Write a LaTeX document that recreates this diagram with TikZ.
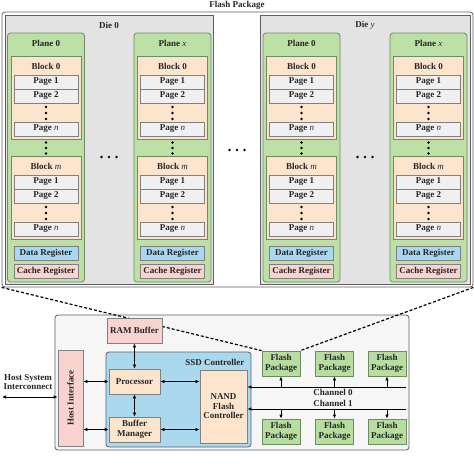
\documentclass[tikz,border=0pt]{standalone}
\usepackage{fontspec}
\setmainfont{Liberation Serif}
\usetikzlibrary{arrows.meta}

\newcommand{\var}[1]{{\mdseries\itshape #1}}
\definecolor{linegray}{HTML}{5F5F5F}
\definecolor{diegray}{HTML}{E3E3E3}
\definecolor{planegreen}{HTML}{BCE0A6}
\definecolor{planeline}{HTML}{6F8B62}
\definecolor{blockpeach}{HTML}{FDE5CD}
\definecolor{pagegray}{HTML}{F0F0F0}
\definecolor{regblue}{HTML}{A9D9F2}
\definecolor{regpink}{HTML}{F9D3D0}
\definecolor{boardgray}{HTML}{F6F6F6}
\definecolor{ctrlblue}{HTML}{AAD8EF}
\definecolor{pkggreen}{HTML}{B7DDA0}
\definecolor{textdark}{HTML}{262626}

\begin{document}
\begin{tikzpicture}[x=1pt,y=-1pt,
  font=\bfseries\fontsize{9}{9.5}\selectfont, text=textdark,
  box/.style={draw=linegray,line width=0.8pt,inner sep=0pt,rectangle,align=center},
  outerbox/.style={box,fill=white,rounded corners=3pt,minimum width=471pt,minimum height=275pt},
  diebox/.style={box,fill=diegray,minimum width=#1,minimum height=269pt},
  planebox/.style={box,draw=planeline,fill=planegreen,rounded corners=3pt,minimum width=77pt,minimum height=249pt},
  blockbox/.style={box,draw=planeline,fill=blockpeach,minimum width=70pt,minimum height=83pt},
  pagebox/.style={box,draw=gray,fill=pagegray,minimum width=64pt,minimum height=14pt},
  databox/.style={box,draw=gray,fill=regblue,minimum width=64pt,minimum height=14pt},
  cachebox/.style={box,draw=gray,fill=regpink,minimum width=64pt,minimum height=14pt},
  pinkbox/.style={box,draw=gray,fill=regpink},
  peachbox/.style={box,draw=gray,fill=blockpeach},
  pkgbox/.style={box,draw=planeline,fill=pkggreen,minimum width=38pt,minimum height=25pt},
  biarrow/.style={{Latex[length=4pt,width=3.5pt]}-{Latex[length=4pt,width=3.5pt]},line width=1pt,black},
  onearrow/.style={-{Latex[length=4pt,width=3.5pt]},line width=1pt,black},
  zoomline/.style={line width=1.2pt,dash pattern=on 3pt off 2pt,black}
]
\useasboundingbox (0,0) rectangle (474,467);

% flash package
\node[outerbox] (fpkg) at (237.5,149.5) {};
\node at (237,5) {Flash Package};
\node[diebox=208pt] (die0) at (109,149.5) {};
\node at (109,25) {Die 0};
\node[diebox=210pt] (diey) at (365,149.5) {};
\node at (365,25) {Die \var{y}};

\foreach \cx/\nm/\pl in {46/a/0, 172.5/b/\var{x}, 301.5/c/0, 428.5/d/\var{x}} {
  \node[planebox] (pl\nm) at (\cx,157.5) {};
  \node at (\cx,43) {Plane \pl};
  \foreach \dy/\bn/\bl in {0/0/0, 100/m/\var{m}} {
    \node[blockbox] (bk\nm\bn) at (\cx,97.5+\dy) {};
    \node at (\cx,66+\dy) {Block \bl};
    \node[pagebox] (pg\nm\bn1) at (\cx,82+\dy) {Page 1};
    \node[pagebox] (pg\nm\bn2) at (\cx,96+\dy) {Page 2};
    \node[pagebox] (pg\nm\bn n) at (\cx,129+\dy) {Page \var{n}};
    \foreach \ty in {107,113,119}
      \fill (\cx,\ty+\dy) circle (1.3pt);
  }
  \foreach \ty in {142.5,148,153.5}
    \fill (\cx,\ty) circle (1.3pt);
  \node[databox] (dr\nm) at (\cx,253) {Data Register};
  \node[cachebox] (cr\nm) at (\cx,271) {Cache Register};
}

% dots between planes and dies
\foreach \tx in {-7.5,0,7.5} {
  \fill (109+\tx,157) circle (1.3pt);
  \fill (365+\tx,157) circle (1.3pt);
  \fill (237+\tx,150) circle (1.3pt);
}

% SSD
\node[box,fill=boardgray,rounded corners=3pt,minimum width=354pt,minimum height=135pt] (ssd) at (232,382.5) {};
\node[pkgbox] (ft1) at (281,363.5) {Flash\\Package};
\draw[zoomline] (fpkg.south west) -- (ft1.north west);
\draw[zoomline] (fpkg.south east) -- (ft1.north east);
\node[pinkbox,minimum width=55pt,minimum height=25pt] (ram) at (134.5,330.5) {RAM Buffer};
\node[pinkbox,minimum width=25pt,minimum height=96pt] (hif) at (70.5,398) {};
\node[rotate=90] at (hif) {Host Interface};
\node[box,fill=ctrlblue,rounded corners=3pt,minimum width=145pt,minimum height=95pt] (ctrl) at (178.5,399.5) {};
\node[anchor=east] at (248,362) {SSD Controller};
\node[peachbox,minimum width=51pt,minimum height=25pt] (proc) at (134.5,381.5) {Processor};
\node[peachbox,minimum width=51pt,minimum height=25pt] (bufm) at (134.5,429.5) {Buffer\\Manager};
\node[peachbox,minimum width=47pt,minimum height=73pt] (nand) at (223.5,406.5) {NAND\\Flash\\Controller};
\node[pkgbox] (ft2) at (334.5,363.5) {Flash\\Package};
\node[pkgbox] (ft3) at (387,363.5) {Flash\\Package};
\node[pkgbox] (fb1) at (281,431.5) {Flash\\Package};
\node[pkgbox] (fb2) at (334.5,431.5) {Flash\\Package};
\node[pkgbox] (fb3) at (387,431.5) {Flash\\Package};

\node[align=center] at (28,382) {Host System\\Interconnect};
\coordinate (host) at (2,397);
\draw[biarrow] (host) -- (hif.west |- host);
\draw[biarrow] (hif.east |- proc) -- (proc.west);
\draw[biarrow] (hif.east |- bufm) -- (bufm.west);
\draw[biarrow] (proc.east) -- (nand.west |- proc.east);
\draw[biarrow] (bufm.east) -- (nand.west |- bufm.east);
\draw[biarrow] (ram.south) -- (proc.north);
\draw[biarrow] (proc.south) -- (bufm.north);

% channels
\coordinate (ch0) at (406,387);
\coordinate (ch1) at (406,409);
\draw[onearrow] (ch0) -- (nand.east |- ch0);
\draw[onearrow] (ch1) -- (nand.east |- ch1);
\foreach \f in {1,2,3} {
  \draw[onearrow] (ft\f.south |- ch0) -- (ft\f.south);
  \draw[onearrow] (fb\f.north |- ch1) -- (fb\f.north);
}
\node at (333,392) {Channel 0};
\node at (333,403.5) {Channel 1};
\end{tikzpicture}
\end{document}
